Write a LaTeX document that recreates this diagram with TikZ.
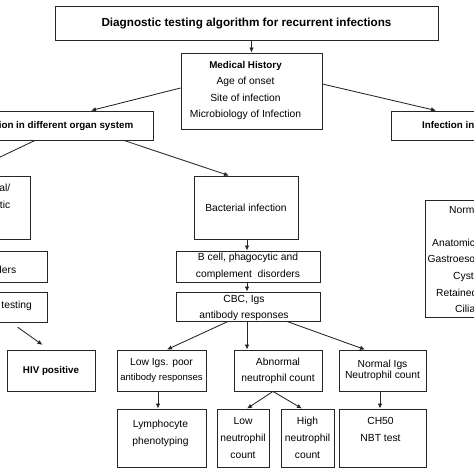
\documentclass[tikz,border=0pt]{standalone}
\usepackage{fontspec}
\setmainfont{Liberation Sans}
\usetikzlibrary{arrows.meta,calc}
\newcommand\rgfont{\fontsize{10.3}{16.5}\selectfont}
\newcommand\hdfont{\fontsize{9.8}{16.5}\selectfont\bfseries}
\newcommand\ttlfont{\fontsize{11.7}{14}\selectfont\bfseries}
\begin{document}
\begin{tikzpicture}[x=1pt,y=-1pt]
\tikzset{
  bx/.style={draw=black!85, line width=0.9pt, rectangle, inner sep=0pt, align=center, font=\rgfont},
  txt/.style={inner sep=0pt, align=center, font=\rgfont},
  arr/.style={draw=black!85, line width=0.85pt, -{Latex[length=5pt,width=4.5pt]}}
}
\useasboundingbox (0,0) rectangle (474,474);
\fill[white] (0,0) rectangle (474,474);
\clip (0,0) rectangle (474,474);

% top
\node[bx, minimum width=383pt, minimum height=34pt, font=\ttlfont] (title) at (246.5,23) {Diagnostic testing algorithm for recurrent infections};
\node[bx, minimum width=141pt, minimum height=76pt] (med) at (251.5,91) {};
\node[txt] (medt) at (245.5,90.5) {{\hdfont Medical History}\\Age of onset\\Site of infection\\Microbiology of Infection};
\node[bx, minimum width=200pt, minimum height=29pt, font=\hdfont] (orgL) at (53,125.5) {Infection in different organ system};
\node[bx, minimum width=201pt, minimum height=29pt, font=\hdfont] (orgR) at (491.5,125.5) {Infection in one organ system};

% left column (cut by the edge)
\node[bx, minimum width=90pt, minimum height=63pt] (viral) at (-15,207.5) {};
\node[txt, anchor=east, align=right] (viralt) at (10.5,196.5) {Fungal/\\Parasitic};
\node[bx, minimum width=120pt, minimum height=31pt] (tcell) at (-13,266.5) {};
\node[txt, anchor=east] (tcellt) at (16.5,269.5) {T cell disorders};
\node[bx, minimum width=120pt, minimum height=30pt] (hivt) at (-13,307) {};
\node[txt, anchor=east] (hivtt) at (32,306) {HIV testing};
\node[bx, minimum width=88pt, minimum height=41pt, font=\hdfont] (hivpos) at (51,370.5) {HIV positive};

% middle column
\node[bx, minimum width=104pt, minimum height=63pt] (bact) at (246,207.5) {Bacterial infection};
\node[bx, minimum width=144pt, minimum height=31pt, font=\fontsize{10.3}{17}\selectfont] (bcell) at (248,266.5) {B cell, phagocytic and\\complement\ \ disorders};
\node[bx, minimum width=144pt, minimum height=29pt] (cbc) at (248,306.5) {};
\node[txt, font=\fontsize{10.3}{16}\selectfont] (cbct) at (244,308) {CBC, Igs\\antibody responses};

\node[bx, minimum width=89pt, minimum height=41pt, font=\fontsize{10.3}{15}\selectfont] (lowigs) at (161.5,370.5) {Low Igs. poor\\{\fontsize{9.5}{15}\selectfont antibody responses}};
\node[bx, minimum width=88pt, minimum height=41pt, font=\fontsize{10.3}{16}\selectfont] (abn) at (278,370.5) {Abnormal\\neutrophil count};
\node[bx, minimum width=87pt, minimum height=41pt, font=\fontsize{10.3}{11}\selectfont] (normigs) at (382.5,370.5) {Normal Igs\\Neutrophil count};

\node[bx, minimum width=89pt, minimum height=58pt] (lymph) at (161.5,438) {};
\node[txt, font=\fontsize{10.3}{17}\selectfont] (lympht) at (160.5,433.5) {Lymphocyte\\phenotyping};
\node[bx, minimum width=52pt, minimum height=58pt, font=\fontsize{10.3}{17}\selectfont] (lowneut) at (243,438) {Low\\neutrophil\\count};
\node[bx, minimum width=53pt, minimum height=58pt, font=\fontsize{10.3}{17}\selectfont] (highneut) at (307.5,438) {High\\neutrophil\\count};
\node[bx, minimum width=87pt, minimum height=58pt] (ch50) at (382.5,438) {};
\node[txt, font=\fontsize{10.3}{17}\selectfont] (ch50t) at (380.5,429.5) {CH50\\NBT test};

% right column (cut by the edge)
\node[bx, minimum width=135pt, minimum height=117pt] (rbox) at (492.5,258.5) {};
\node[txt, anchor=west] (r1) at (449,210) {Normal};
\node[txt, anchor=west] (r2) at (432,243) {Anatomic defects};
\node[txt, anchor=west] (r3) at (427.5,259.5) {Gastroesophageal reflux};
\node[txt, anchor=west] (r4) at (453,276.5) {Cystic fibrosis};
\node[txt, anchor=west] (r5) at (436,293.5) {Retained foreign body};
\node[txt, anchor=west] (r6) at (455,310) {Ciliary dyskinesia};

% connectors
\draw[arr] (title.south -| med.north) -- (med.north);
\draw[arr] ([yshift=3pt]med.west) -- ([xshift=38pt]orgL.north);
\draw[arr] ([yshift=7pt]med.east) -- ([xshift=-55.5pt]orgR.north);
\draw[arr] ([xshift=-18pt]orgL.south) -- ([xshift=-24pt]viral.north);
\draw[arr] ([xshift=71pt]orgL.south) -- ([xshift=-17pt]bact.north);
\draw[arr] ([xshift=1pt]bact.south) -- ([xshift=1pt]bact.south |- bcell.north);
\draw[arr] ([xshift=-1pt]bcell.south) -- ([xshift=-1pt]bcell.south |- cbc.north);
\draw[arr] ([xshift=-20pt]cbc.south) -- ([xshift=5.5pt]lowigs.north);
\draw[arr] ([xshift=-1pt]cbc.south) -- ([xshift=-1pt]cbc.south |- abn.north);
\draw[arr] ([xshift=39pt]cbc.south) -- ([xshift=-17.5pt]normigs.north);
\draw[arr] ([xshift=-3.5pt]lowigs.south) -- ([xshift=-3.5pt]lowigs.south |- lymph.north);
\draw[arr] ([xshift=-5pt]abn.south) -- ([xshift=4pt]lowneut.north);
\draw[arr] ([xshift=-5pt]abn.south) -- ([xshift=-5.5pt]highneut.north);
\draw[arr] ([xshift=-2.5pt]normigs.south) -- ([xshift=-2.5pt]normigs.south |- ch50.north);
\draw[arr, shorten <=8pt, shorten >=8pt] ([xshift=24pt]hivt.south) -- ([xshift=-2pt]hivpos.north);
\end{tikzpicture}
\end{document}
